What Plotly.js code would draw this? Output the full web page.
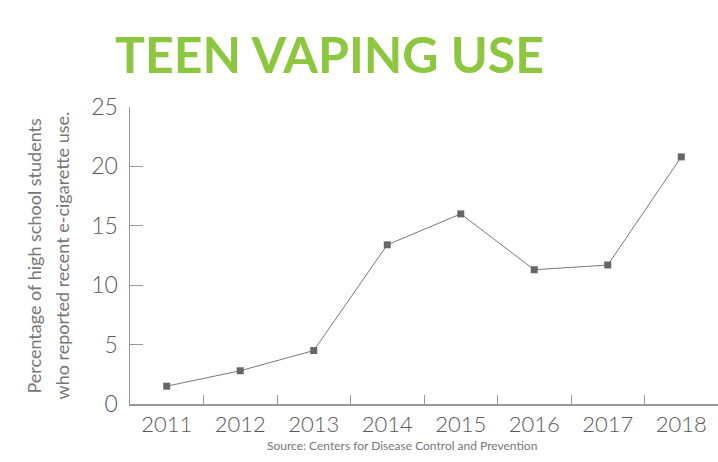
<!DOCTYPE html>
<html>
<head>
<meta charset="utf-8">
<script src="https://cdn.plot.ly/plotly-3.0.1.min.js"></script>
<style>html,body{margin:0;padding:0;background:#fff;}#chart{width:718px;height:462px;}</style>
</head>
<body>
<div id="chart"></div>
<script>
const years = ['2011','2012','2013','2014','2015','2016','2017','2018'];
const usePct = [1.5, 2.8, 4.5, 13.4, 16.0, 11.3, 11.7, 20.8];
const yTicks = [0, 5, 10, 15, 20, 25];
const chartTitle = 'TEEN VAPING USE';
const yTitleLines = ['Percentage of high school students', 'who reported recent e-cigarette use.'];
const sourceNote = 'Source: Centers for Disease Control and Prevention';

const FONT = 'Lato, "Open Sans", sans-serif';

const trace = {
  x: years,
  y: usePct,
  type: 'scatter',
  mode: 'lines+markers',
  line: {color: '#7a7a7a', width: 1},
  marker: {symbol: 'square', size: 7, color: '#666666'},
  hoverinfo: 'x+y'
};

const titleAnns = yTitleLines.map((t, i) => ({
  text: t,
  xref: 'paper', yref: 'paper',
  x: 0, y: 0.5,
  xshift: i === 0 ? -97 : -69,
  xanchor: 'center', yanchor: 'middle',
  textangle: -90,
  showarrow: false,
  font: {family: FONT, size: 18, color: '#767676', weight: 400}
}));

const layout = {
  width: 718,
  height: 462,
  margin: {l: 130, r: 0, t: 107, b: 58},
  paper_bgcolor: '#ffffff',
  plot_bgcolor: '#ffffff',
  showlegend: false,
  title: {
    text: chartTitle,
    font: {family: FONT, size: 50, color: '#8dc63f', weight: 700},
    xref: 'container', x: 0.459, xanchor: 'center',
    yref: 'container', y: 0.88, yanchor: 'middle'
  },
  xaxis: {
    type: 'category',
    range: [-0.5, 7.5],
    tickson: 'boundaries',
    ticks: 'inside',
    ticklen: 9,
    tickwidth: 1,
    tickcolor: '#999999',
    showline: true,
    linecolor: '#999999',
    linewidth: 1.5,
    showgrid: false,
    zeroline: false,
    tickfont: {family: FONT, size: 22, color: '#5a5a5a', weight: 300},
    fixedrange: true
  },
  yaxis: {
    range: [0, 25],
    tickvals: yTicks,
    ticks: 'inside',
    ticklen: 13,
    tickwidth: 1,
    tickcolor: '#999999',
    showline: true,
    linecolor: '#999999',
    linewidth: 1.5,
    showgrid: false,
    zeroline: false,
    ticklabelstandoff: 6,
    tickfont: {family: FONT, size: 23, color: '#5a5a5a', weight: 300},
    fixedrange: true
  },
  annotations: titleAnns.concat([{
    text: sourceNote,
    xref: 'paper', yref: 'paper',
    x: (402 - 130) / 588, y: -0.14,
    xanchor: 'center', yanchor: 'middle',
    showarrow: false,
    font: {family: FONT, size: 12, color: '#777777'}
  }])
};

Plotly.newPlot('chart', [trace], layout, {displayModeBar: false, staticPlot: true});
</script>
</body>
</html>
